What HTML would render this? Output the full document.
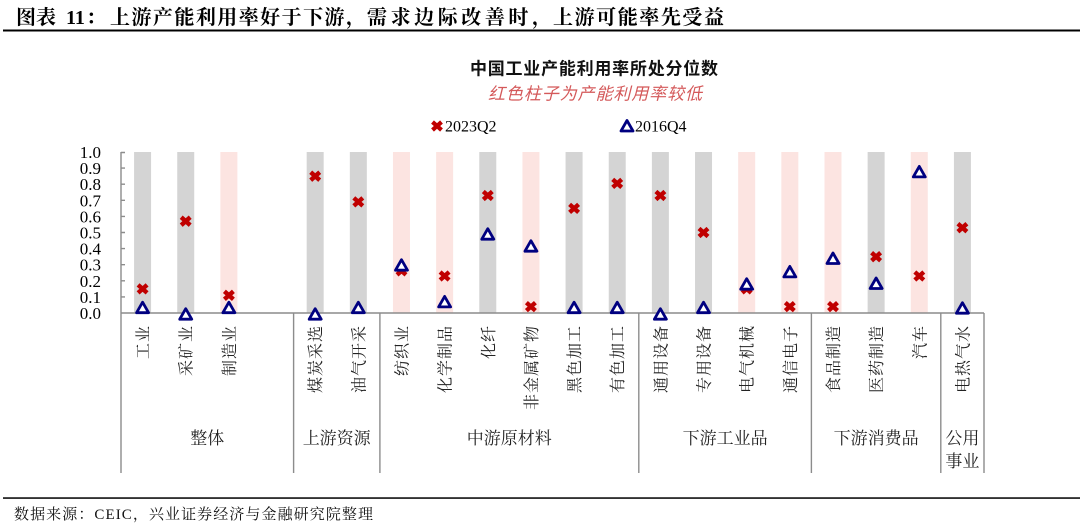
<!DOCTYPE html>
<html><head><meta charset="utf-8">
<style>
html,body{margin:0;padding:0;background:#fff;}
body{width:1080px;height:529px;position:relative;overflow:hidden;}
svg{position:absolute;left:0;top:0;}
</style></head>
<body>
<svg width="1080" height="529" viewBox="0 0 1080 529" xmlns="http://www.w3.org/2000/svg">
<!-- Title -->
<g font-family="'Liberation Serif','Noto Serif CJK SC',serif" font-weight="700" font-size="20" fill="#000">
<text x="16" y="24" textLength="40" lengthAdjust="spacing">图表</text>
<text x="66" y="24" font-family="'Liberation Serif',serif">11</text>
<text x="86" y="24">：</text>
<text x="110" y="24" textLength="256" lengthAdjust="spacing">上游产能利用率好于下游，</text>
<text x="367" y="24" textLength="185" lengthAdjust="spacing">需求边际改善时，</text>
<text x="553" y="24" textLength="171" lengthAdjust="spacing">上游可能率先受益</text>
</g>
<rect x="3" y="29.5" width="1077" height="2" fill="#000"/>

<!-- Chart title -->
<text x="470" y="74.5" textLength="248" lengthAdjust="spacing" font-family="'Liberation Sans','Noto Sans CJK SC',sans-serif" font-weight="700" font-size="17" fill="#111">中国工业产能利用率所处分位数</text>
<text x="488" y="99.5" textLength="214" lengthAdjust="spacing" font-family="'Liberation Sans','Noto Sans CJK SC',sans-serif" font-style="italic" font-size="17" fill="#d4595a">红色柱子为产能利用率较低</text>

<!-- Legend -->
<path d="M432.5,122 L441.5,130 M432.5,130 L441.5,122" stroke="#c00000" stroke-width="4.2"/>
<text x="445" y="131.5" font-family="'Liberation Serif',serif" font-size="16" fill="#000">2023Q2</text>
<path d="M627,120.5 L633,131 L621,131 Z" fill="#fff" stroke="#000080" stroke-width="2.8" stroke-linejoin="round"/>
<text x="635" y="131.5" font-family="'Liberation Serif',serif" font-size="16" fill="#000">2016Q4</text>

<!-- Bars -->
<g>
<rect x="134.08" y="152" width="17" height="161" fill="#d4d4d4"/>
<rect x="177.23" y="152" width="17" height="161" fill="#d4d4d4"/>
<rect x="220.38" y="152" width="17" height="161" fill="#fce4e1"/>
<rect x="306.68" y="152" width="17" height="161" fill="#d4d4d4"/>
<rect x="349.83" y="152" width="17" height="161" fill="#d4d4d4"/>
<rect x="392.98" y="152" width="17" height="161" fill="#fce4e1"/>
<rect x="436.13" y="152" width="17" height="161" fill="#fce4e1"/>
<rect x="479.28" y="152" width="17" height="161" fill="#d4d4d4"/>
<rect x="522.43" y="152" width="17" height="161" fill="#fce4e1"/>
<rect x="565.58" y="152" width="17" height="161" fill="#d4d4d4"/>
<rect x="608.73" y="152" width="17" height="161" fill="#d4d4d4"/>
<rect x="651.88" y="152" width="17" height="161" fill="#d4d4d4"/>
<rect x="695.03" y="152" width="17" height="161" fill="#d4d4d4"/>
<rect x="738.18" y="152" width="17" height="161" fill="#fce4e1"/>
<rect x="781.33" y="152" width="17" height="161" fill="#fce4e1"/>
<rect x="824.48" y="152" width="17" height="161" fill="#fce4e1"/>
<rect x="867.63" y="152" width="17" height="161" fill="#d4d4d4"/>
<rect x="910.78" y="152" width="17" height="161" fill="#fce4e1"/>
<rect x="953.93" y="152" width="17" height="161" fill="#d4d4d4"/>
</g>

<!-- Axes -->
<g stroke="#8c8c8c" stroke-width="1.4" fill="none">
<line x1="121" y1="152" x2="121" y2="473"/>
<line x1="121" y1="313" x2="984" y2="313"/>
<line x1="293.6" y1="313" x2="293.6" y2="473"/>
<line x1="379.9" y1="313" x2="379.9" y2="473"/>
<line x1="638.8" y1="313" x2="638.8" y2="473"/>
<line x1="811.4" y1="313" x2="811.4" y2="473"/>
<line x1="940.8" y1="313" x2="940.8" y2="473"/>
<line x1="984" y1="313" x2="984" y2="473"/>
<path d="M121,152.5 h4 M121,168.1 h4 M121,184.2 h4 M121,200.3 h4 M121,216.4 h4 M121,232.5 h4 M121,248.6 h4 M121,264.7 h4 M121,280.8 h4 M121,296.9 h4"/>
</g>

<!-- Y labels -->
<g font-family="'Liberation Serif',serif" font-size="17" fill="#000" text-anchor="end">
<text x="101" y="158">1.0</text>
<text x="101" y="174.1">0.9</text>
<text x="101" y="190.2">0.8</text>
<text x="101" y="206.3">0.7</text>
<text x="101" y="222.4">0.6</text>
<text x="101" y="238.5">0.5</text>
<text x="101" y="254.6">0.4</text>
<text x="101" y="270.7">0.3</text>
<text x="101" y="286.8">0.2</text>
<text x="101" y="302.9">0.1</text>
<text x="101" y="319">0.0</text>
</g>

<!-- 2023Q2 markers -->
<g stroke="#c00000" stroke-width="4.4" fill="none">
<path d="M138.1,284.9 l9,8 m-9,0 l9,-8"/>
<path d="M181.2,217.2 l9,8 m-9,0 l9,-8"/>
<path d="M224.4,291.3 l9,8 m-9,0 l9,-8"/>
<path d="M310.7,172.2 l9,8 m-9,0 l9,-8"/>
<path d="M353.8,197.9 l9,8 m-9,0 l9,-8"/>
<path d="M397,266.8 l9,8 m-9,0 l9,-8"/>
<path d="M440.1,272 l9,8 m-9,0 l9,-8"/>
<path d="M483.3,191.5 l9,8 m-9,0 l9,-8"/>
<path d="M526.4,302.6 l9,8 m-9,0 l9,-8"/>
<path d="M569.6,204.4 l9,8 m-9,0 l9,-8"/>
<path d="M612.7,179.4 l9,8 m-9,0 l9,-8"/>
<path d="M655.9,191.5 l9,8 m-9,0 l9,-8"/>
<path d="M699,228.5 l9,8 m-9,0 l9,-8"/>
<path d="M742.2,284.9 l9,8 m-9,0 l9,-8"/>
<path d="M785.3,302.6 l9,8 m-9,0 l9,-8"/>
<path d="M828.5,302.6 l9,8 m-9,0 l9,-8"/>
<path d="M871.6,252.7 l9,8 m-9,0 l9,-8"/>
<path d="M914.8,272 l9,8 m-9,0 l9,-8"/>
<path d="M957.9,223.7 l9,8 m-9,0 l9,-8"/>
</g>

<!-- 2016Q4 markers -->
<g fill="#fff" stroke="#000080" stroke-width="2.8" stroke-linejoin="round">
<path d="M142.58,302.2 l6,10.5 h-12 z"/>
<path d="M185.73,308.7 l6,10.5 h-12 z"/>
<path d="M228.88,302.2 l6,10.5 h-12 z"/>
<path d="M315.18,308.7 l6,10.5 h-12 z"/>
<path d="M358.33,302.2 l6,10.5 h-12 z"/>
<path d="M401.48,259.7 l6,10.5 h-12 z"/>
<path d="M444.63,296.4 l6,10.5 h-12 z"/>
<path d="M487.78,228.7 l6,10.5 h-12 z"/>
<path d="M530.93,240.7 l6,10.5 h-12 z"/>
<path d="M574.08,302.2 l6,10.5 h-12 z"/>
<path d="M617.23,302.2 l6,10.5 h-12 z"/>
<path d="M660.38,308.7 l6,10.5 h-12 z"/>
<path d="M703.53,302.2 l6,10.5 h-12 z"/>
<path d="M746.68,278.7 l6,10.5 h-12 z"/>
<path d="M789.83,266.4 l6,10.5 h-12 z"/>
<path d="M832.98,253 l6,10.5 h-12 z"/>
<path d="M876.13,278 l6,10.5 h-12 z"/>
<path d="M919.28,166.4 l6,10.5 h-12 z"/>
<path d="M962.43,302.7 l6,10.5 h-12 z"/>
</g>

<!-- Category labels (rotated -90, reading bottom to top) -->
<g font-family="'Liberation Serif','Noto Serif CJK SC',serif" font-size="16" letter-spacing="1" fill="#222" text-anchor="end">
<text transform="translate(148.6,325) rotate(-90)">工业</text>
<text transform="translate(191.7,325) rotate(-90)">采矿业</text>
<text transform="translate(234.9,325) rotate(-90)">制造业</text>
<text transform="translate(321.2,325) rotate(-90)">煤炭采选</text>
<text transform="translate(364.3,325) rotate(-90)">油气开采</text>
<text transform="translate(407.5,325) rotate(-90)">纺织业</text>
<text transform="translate(450.6,325) rotate(-90)">化学制品</text>
<text transform="translate(493.8,325) rotate(-90)">化纤</text>
<text transform="translate(536.9,325) rotate(-90)">非金属矿物</text>
<text transform="translate(580.1,325) rotate(-90)">黑色加工</text>
<text transform="translate(623.2,325) rotate(-90)">有色加工</text>
<text transform="translate(666.4,325) rotate(-90)">通用设备</text>
<text transform="translate(709.5,325) rotate(-90)">专用设备</text>
<text transform="translate(752.7,325) rotate(-90)">电气机械</text>
<text transform="translate(795.8,325) rotate(-90)">通信电子</text>
<text transform="translate(839,325) rotate(-90)">食品制造</text>
<text transform="translate(882.1,325) rotate(-90)">医药制造</text>
<text transform="translate(925.3,325) rotate(-90)">汽车</text>
<text transform="translate(968.4,325) rotate(-90)">电热气水</text>
</g>

<!-- Group labels -->
<g font-family="'Liberation Serif','Noto Serif CJK SC',serif" font-size="17" fill="#222" text-anchor="middle">
<text x="207.3" y="444">整体</text>
<text x="336.7" y="444">上游资源</text>
<text x="509.3" y="444">中游原材料</text>
<text x="725.1" y="444">下游工业品</text>
<text x="876.1" y="444">下游消费品</text>
<text x="962.4" y="444">公用</text>
<text x="962.4" y="467">事业</text>
</g>

<!-- Footer -->
<rect x="3" y="497.3" width="1077" height="1.5" fill="#000"/>
<text x="14" y="519" textLength="359" lengthAdjust="spacing" font-family="'Liberation Serif','Noto Serif CJK SC',serif" font-size="15" fill="#111">数据来源：<tspan font-family="'Liberation Serif',serif">CEIC</tspan>，兴业证券经济与金融研究院整理</text>
</svg>
</body></html>
